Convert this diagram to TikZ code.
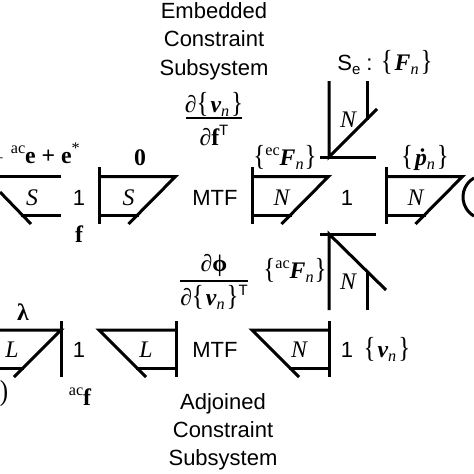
\documentclass[tikz,border=0pt]{standalone}
\usepackage{fontspec}
\setmainfont{Liberation Sans}
\newfontfamily\tms[Scale=1.08]{Liberation Serif}
\newcommand{\rmt}[1]{{\tms #1}}
\newcommand{\itt}[1]{{\tms\itshape #1}}
\newcommand{\bft}[1]{{\tms\bfseries #1}}
\newcommand{\bit}[1]{{\tms\bfseries\itshape #1}}
\newcommand{\brc}[1]{\raisebox{-0.04em}{\scalebox{1.05}[1.22]{\rmt{#1}}}}
\newcommand{\subt}[1]{\raisebox{-0.22em}{\fontsize{15}{15}\selectfont #1}}
\newcommand{\supt}[1]{\raisebox{0.42em}{\fontsize{15}{15}\selectfont #1}}
\newcommand{\vset}{\brc{\{}\kern2pt\bit{v}\subt{\itt{n}}\kern2pt\brc{\}}}
\newcommand{\Fset}{\brc{\{}\kern2pt\bit{F}\subt{\itt{n}}\kern2pt\brc{\}}}
\tikzset{
  every picture/.style={font=\fontsize{22}{22}\selectfont},
  bond/.style={line width=3pt, line cap=butt, line join=miter},
  fracbar/.style={line width=1.4pt},
  lab/.style={anchor=base, inner sep=0pt, outer sep=0pt},
}
\begin{document}
\begin{tikzpicture}[x=1pt, y=-1pt]
  \useasboundingbox (0,0) rectangle (474,474);
  % ---------- top row: stroke on the left, half arrow to the right ----------
  \foreach \x/\n in {99/S, 252/N, 386/N} {
    \draw[bond] (\x,167) -- (\x,224);
    \draw[bond] (\x,176.5) -- ++(76.5,0) -- ++(-47,47.5);
    \draw[bond] (\x,215) -- ++(39.5,0);
    \node[lab] (top\n\x) at (\x+29.5,205) {\itt{\n}};
  }
  \draw[bond] (0,176.5) -- (61,176.5);
  \draw[bond] (21,215) -- (61,215);
  \draw[bond] (0,192) -- (31,224);
  % ---------- vertical bonds on the right junction ----------
  \draw[bond] (320,157) -- (376,157);
  \draw[bond] (329,81) -- (329,157) -- (377,109);
  \draw[bond] (367,81) -- (367,120);
  \draw[bond] (320,234) -- (376,234);
  \draw[bond] (329,310) -- (329,234) -- (386,290);
  \draw[bond] (367,272) -- (367,310);
  % ---------- bottom row ----------
  \draw[bond] (61,321) -- (61,377);
  \draw[bond] (0,330) -- (61,330) -- (14,377);
  \draw[bond] (0,368) -- (24,368);
  \foreach \x/\n in {176/L, 329/N} {
    \draw[bond] (\x,321) -- (\x,377);
    \draw[bond] (\x,330) -- ++(-77,0) -- ++(47,47);
    \draw[bond] (\x,368) -- ++(-40,0);
    \node[lab] (bot\n\x) at (\x-30,357) {\itt{\n}};
  }
  \draw[bond] (485,197) ++(240:22) arc[start angle=240, end angle=120, radius=22];
  % ---------- bond letters and junctions ----------
  \node[lab] (sleft) at (32,205) {\itt{S}};
  \node[lab] (lleft) at (12,357) {\itt{L}};
  \node[lab] (nup) at (348,127) {\itt{N}};
  \node[lab] (ndown) at (348,289) {\itt{N}};
  \foreach \x/\y/\t [count=\i] in {79/205/1, 215/205/MTF, 347/205/1, 79/357/1, 215/357/MTF, 347/357/1} {
    \node[lab] (jun\i) at (\x,\y) {\t};
  }
  % ---------- variables ----------
  \node[anchor=base east, inner sep=0pt] (ebase) at (80,163) {\rmt{$-$ \supt{ac}}\bft{e + e}\supt{\rmt{*}}};
  \node[lab] (zero) at (140,165) {\bft{0}};
  \node[lab] (ff) at (79,242) {\bft{f}};
  \node[lab] (lam) at (23,320) {\bft{λ}};
  \node[lab] (paren) at (4,400) {\brc{)}};
  \node[lab] (acf) at (80,405) {\rmt{\supt{ac}}\bft{f}};
  \node[lab] (ecF) at (285,165) {\brc{\{}\rmt{\supt{ec}}\bit{F}\subt{\itt{n}}\kern1pt\brc{\}}};
  \node[lab] (pdot) at (425,165) {\brc{\{}\kern2pt\bit{ṗ}\subt{\itt{n}}\kern2pt\brc{\}}};
  \node[lab] (acF) at (295,278) {\brc{\{}\rmt{\supt{ac}}\bit{F}\subt{\itt{n}}\kern1pt\brc{\}}};
  \node[lab] (vn) at (387,357) {\vset};
  \node[lab] (se) at (385,70) {S\subt{e} : \Fset};
  % ---------- fractions ----------
  \node[lab] (numa) at (214,112) {\rmt{∂}\vset};
  \node[lab] (dena) at (214,145) {\rmt{∂}\bft{f}\supt{T}};
  \coordinate (fa1) at (186,118);
  \coordinate (fa2) at (242,118);
  \draw[fracbar] (fa1) -- (fa2);
  \node[lab] (numb) at (214,271) {\rmt{∂}\bft{ϕ}};
  \node[lab] (denb) at (214,305) {\rmt{∂}\vset\supt{T}};
  \coordinate (fb1) at (180,281);
  \coordinate (fb2) at (248,281);
  \draw[fracbar] (fb1) -- (fb2);
  % ---------- subsystem titles ----------
  \foreach \t/\y [count=\i] in {Embedded/18, Constraint/46.5, Subsystem/75} \node[lab] (ect\i) at (214,\y) {\t};
  \foreach \t/\y [count=\i] in {Adjoined/409, Constraint/437, Subsystem/465} \node[lab] (act\i) at (223,\y) {\t};
\end{tikzpicture}
\end{document}
